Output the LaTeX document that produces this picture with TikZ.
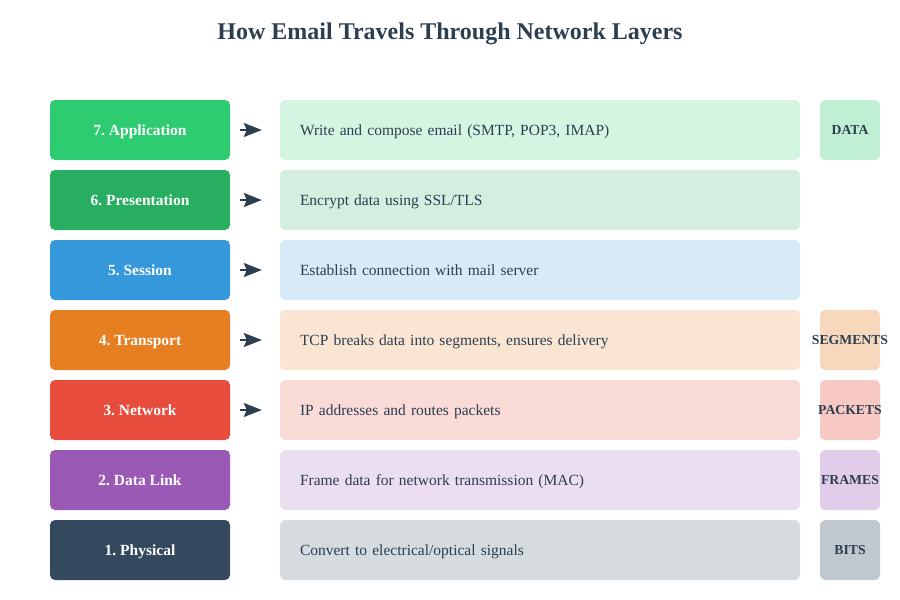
\documentclass[tikz,border=0pt]{standalone}
\usepackage{xcolor}
\usepackage{tikz}
\usepackage{fontspec}
\setmainfont{Liberation Serif}
\frenchspacing
\usetikzlibrary{arrows.meta, positioning}
\definecolor{inkslate}{HTML}{2C3E50}
\definecolor{appgreen}{HTML}{2ECC71}
\definecolor{presgreen}{HTML}{27AE60}
\definecolor{sessblue}{HTML}{3498DB}
\definecolor{transorange}{HTML}{E67E22}
\definecolor{netred}{HTML}{E74C3C}
\definecolor{linkpurple}{HTML}{9B59B6}
\definecolor{physnavy}{HTML}{34495E}

\tikzset{
  layerbox/.style={rounded corners=5pt, minimum width=180pt, minimum height=60pt,
    text height=11pt, text depth=1pt,
    text=white, font=\fontsize{15.5}{15.5}\selectfont\bfseries},
  descbox/.style={rounded corners=5pt, minimum height=60pt, text width=480pt,
    text height=11pt, text depth=1pt,
    inner xsep=20pt, align=left, text=inkslate, font=\fontsize{15.5}{15.5}\selectfont},
  unitbox/.style={rounded corners=5pt, minimum width=60pt, minimum height=60pt,
    inner sep=0pt},
  unittext/.style={anchor=base, inner sep=0pt, text=inkslate,
    font=\fontsize{13.7}{13.7}\selectfont\bfseries},
  flowarrow/.style={draw=inkslate, line width=2pt,
    -{Stealth[length=18pt, width=14pt, inset=3pt]}, shorten <=10pt, shorten >=18pt}
}

\begin{document}
\begin{tikzpicture}[x=1pt, y=-1pt]
  \useasboundingbox (0,0) rectangle (900,600);

  % Title
  \node[anchor=base, inkslate, font=\fontsize{24}{24}\selectfont\bfseries] (title) at (450,39.5) {How Email Travels Through Network Layers};

  % Layers and their descriptions
  \foreach \n/\y/\col/\name/\desc in {
      7/130/appgreen/Application/{Write and compose email (SMTP, POP3, IMAP)},
      6/200/presgreen/Presentation/{Encrypt data using SSL/TLS},
      5/270/sessblue/Session/{Establish connection with mail server},
      4/340/transorange/Transport/{TCP breaks data into segments, ensures delivery},
      3/410/netred/Network/{IP addresses and routes packets},
      2/480/linkpurple/Data Link/{Frame data for network transmission (MAC)},
      1/550/physnavy/Physical/{Convert to electrical/optical signals}} {
    \node[layerbox, fill=\col] (layer\n) at (140,\y) {\n. \name};
    \node[descbox, fill=\col!20] (desc\n) at (540,\y) {\desc};
  }

  % Arrows into the descriptions
  \foreach \n in {7,6,5,4,3} {
    \draw[flowarrow] (layer\n.east) -- (desc\n.west);
  }

  % Data units
  \foreach \n/\y/\col/\unit in {7/130/appgreen/DATA, 4/340/transorange/SEGMENTS,
      3/410/netred/PACKETS, 2/480/linkpurple/FRAMES, 1/550/physnavy/BITS} {
    \node[unitbox, fill=\col!30] (unit\n) at (850,\y) {};
    \node[unittext] (unit\n label) at (850,\y+4.7) {\unit};
  }
\end{tikzpicture}
\end{document}
